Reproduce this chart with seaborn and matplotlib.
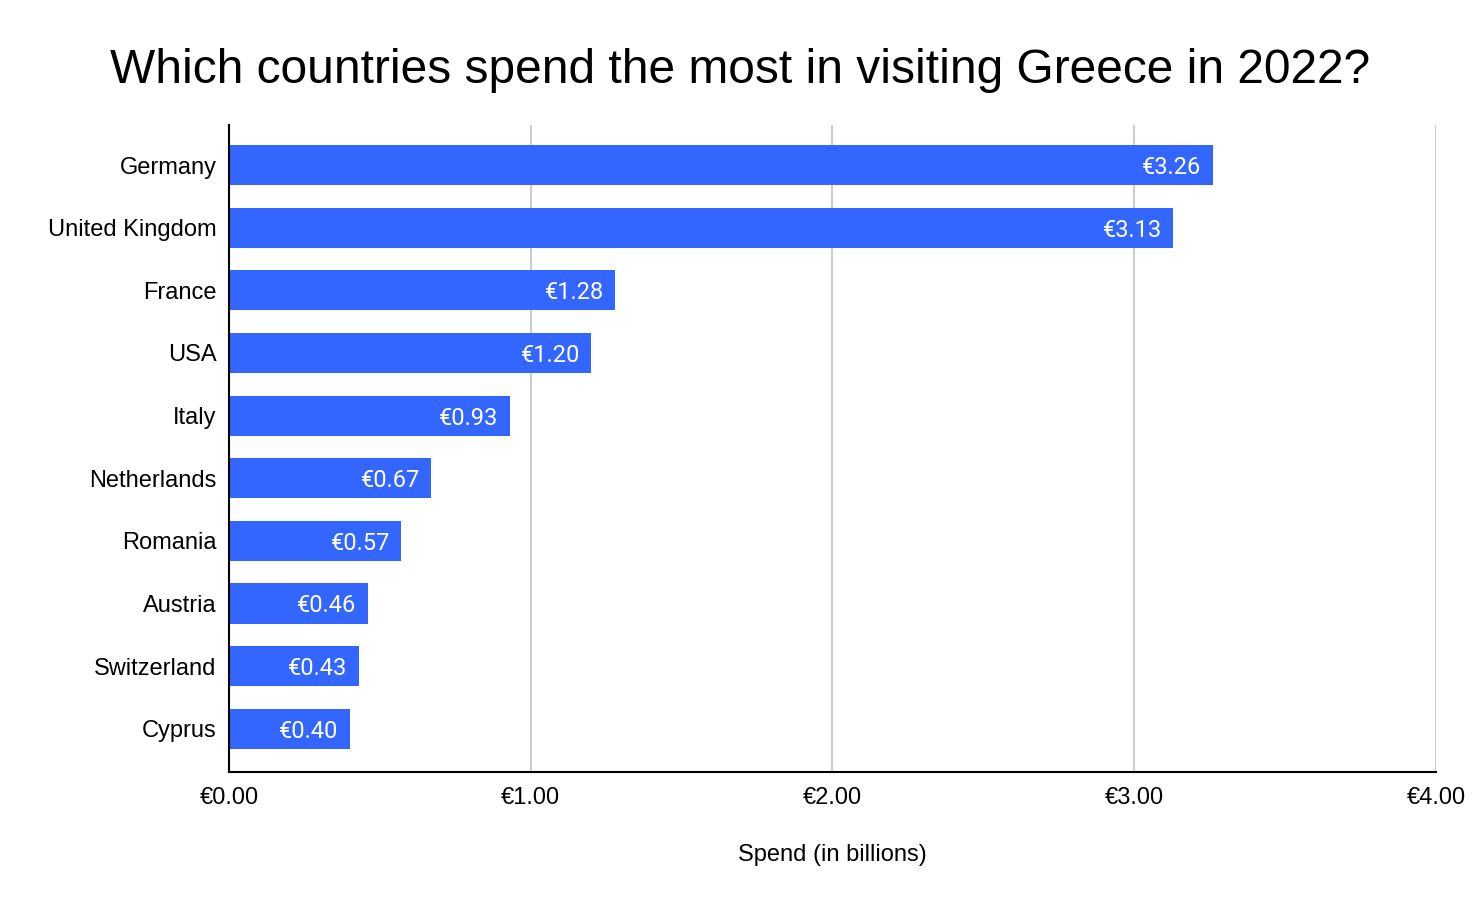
import matplotlib
matplotlib.use("Agg")
import matplotlib.pyplot as plt
import seaborn as sns
import pandas as pd

countries = ["Germany", "United Kingdom", "France", "USA", "Italy",
             "Netherlands", "Romania", "Austria", "Switzerland", "Cyprus"]
spend = [3.26, 3.13, 1.28, 1.20, 0.93, 0.67, 0.57, 0.46, 0.43, 0.40]
x_ticks = [0, 1, 2, 3, 4]

df = pd.DataFrame({"country": countries, "spend": spend})

sns.set_theme(style="white")
plt.rcParams["font.family"] = ["Liberation Sans", "DejaVu Sans"]
plt.rcParams["text.color"] = "black"
plt.rcParams["xtick.color"] = "black"
plt.rcParams["ytick.color"] = "black"
plt.rcParams["axes.labelcolor"] = "black"

fig = plt.figure(figsize=(14.81, 9.14), dpi=100)
ax = fig.add_axes([0.1546, 0.1554, 0.8150, 0.7078])

sns.barplot(data=df, x="spend", y="country", orient="h", color="#3366ff",
            saturation=1, width=0.64, linewidth=0, ax=ax)

ax.set_xlim(0, 4)
ax.set_ylim(9.69, -0.64)
ax.set_xticks(x_ticks)
ax.set_xticklabels([f"€{v:.2f}" for v in x_ticks], fontsize=17)
ax.tick_params(axis="x", length=0, pad=11)
ax.tick_params(axis="y", length=0, pad=9, labelsize=17)
ax.set_ylabel("")
ax.set_xlabel("Spend (in billions)", fontsize=17, labelpad=25)

for v in x_ticks[1:]:
    ax.axvline(v, color="#cccccc", lw=1.5, zorder=0)

for side in ["top", "right"]:
    ax.spines[side].set_visible(False)
for side in ["left", "bottom"]:
    ax.spines[side].set_color("black")
    ax.spines[side].set_linewidth(1.5)

texts = ax.bar_label(ax.containers[0], labels=[f"€{v:.2f}" for v in spend],
                     padding=-8, color="white", fontsize=17, family="Roboto")
for t in texts:
    t.set_ha("right")
    t.set_va("center_baseline")

fig.suptitle("Which countries spend the most in visiting Greece in 2022?",
             fontsize=34.5, y=0.948, color="black")

fig.savefig("out.png", dpi=100)
